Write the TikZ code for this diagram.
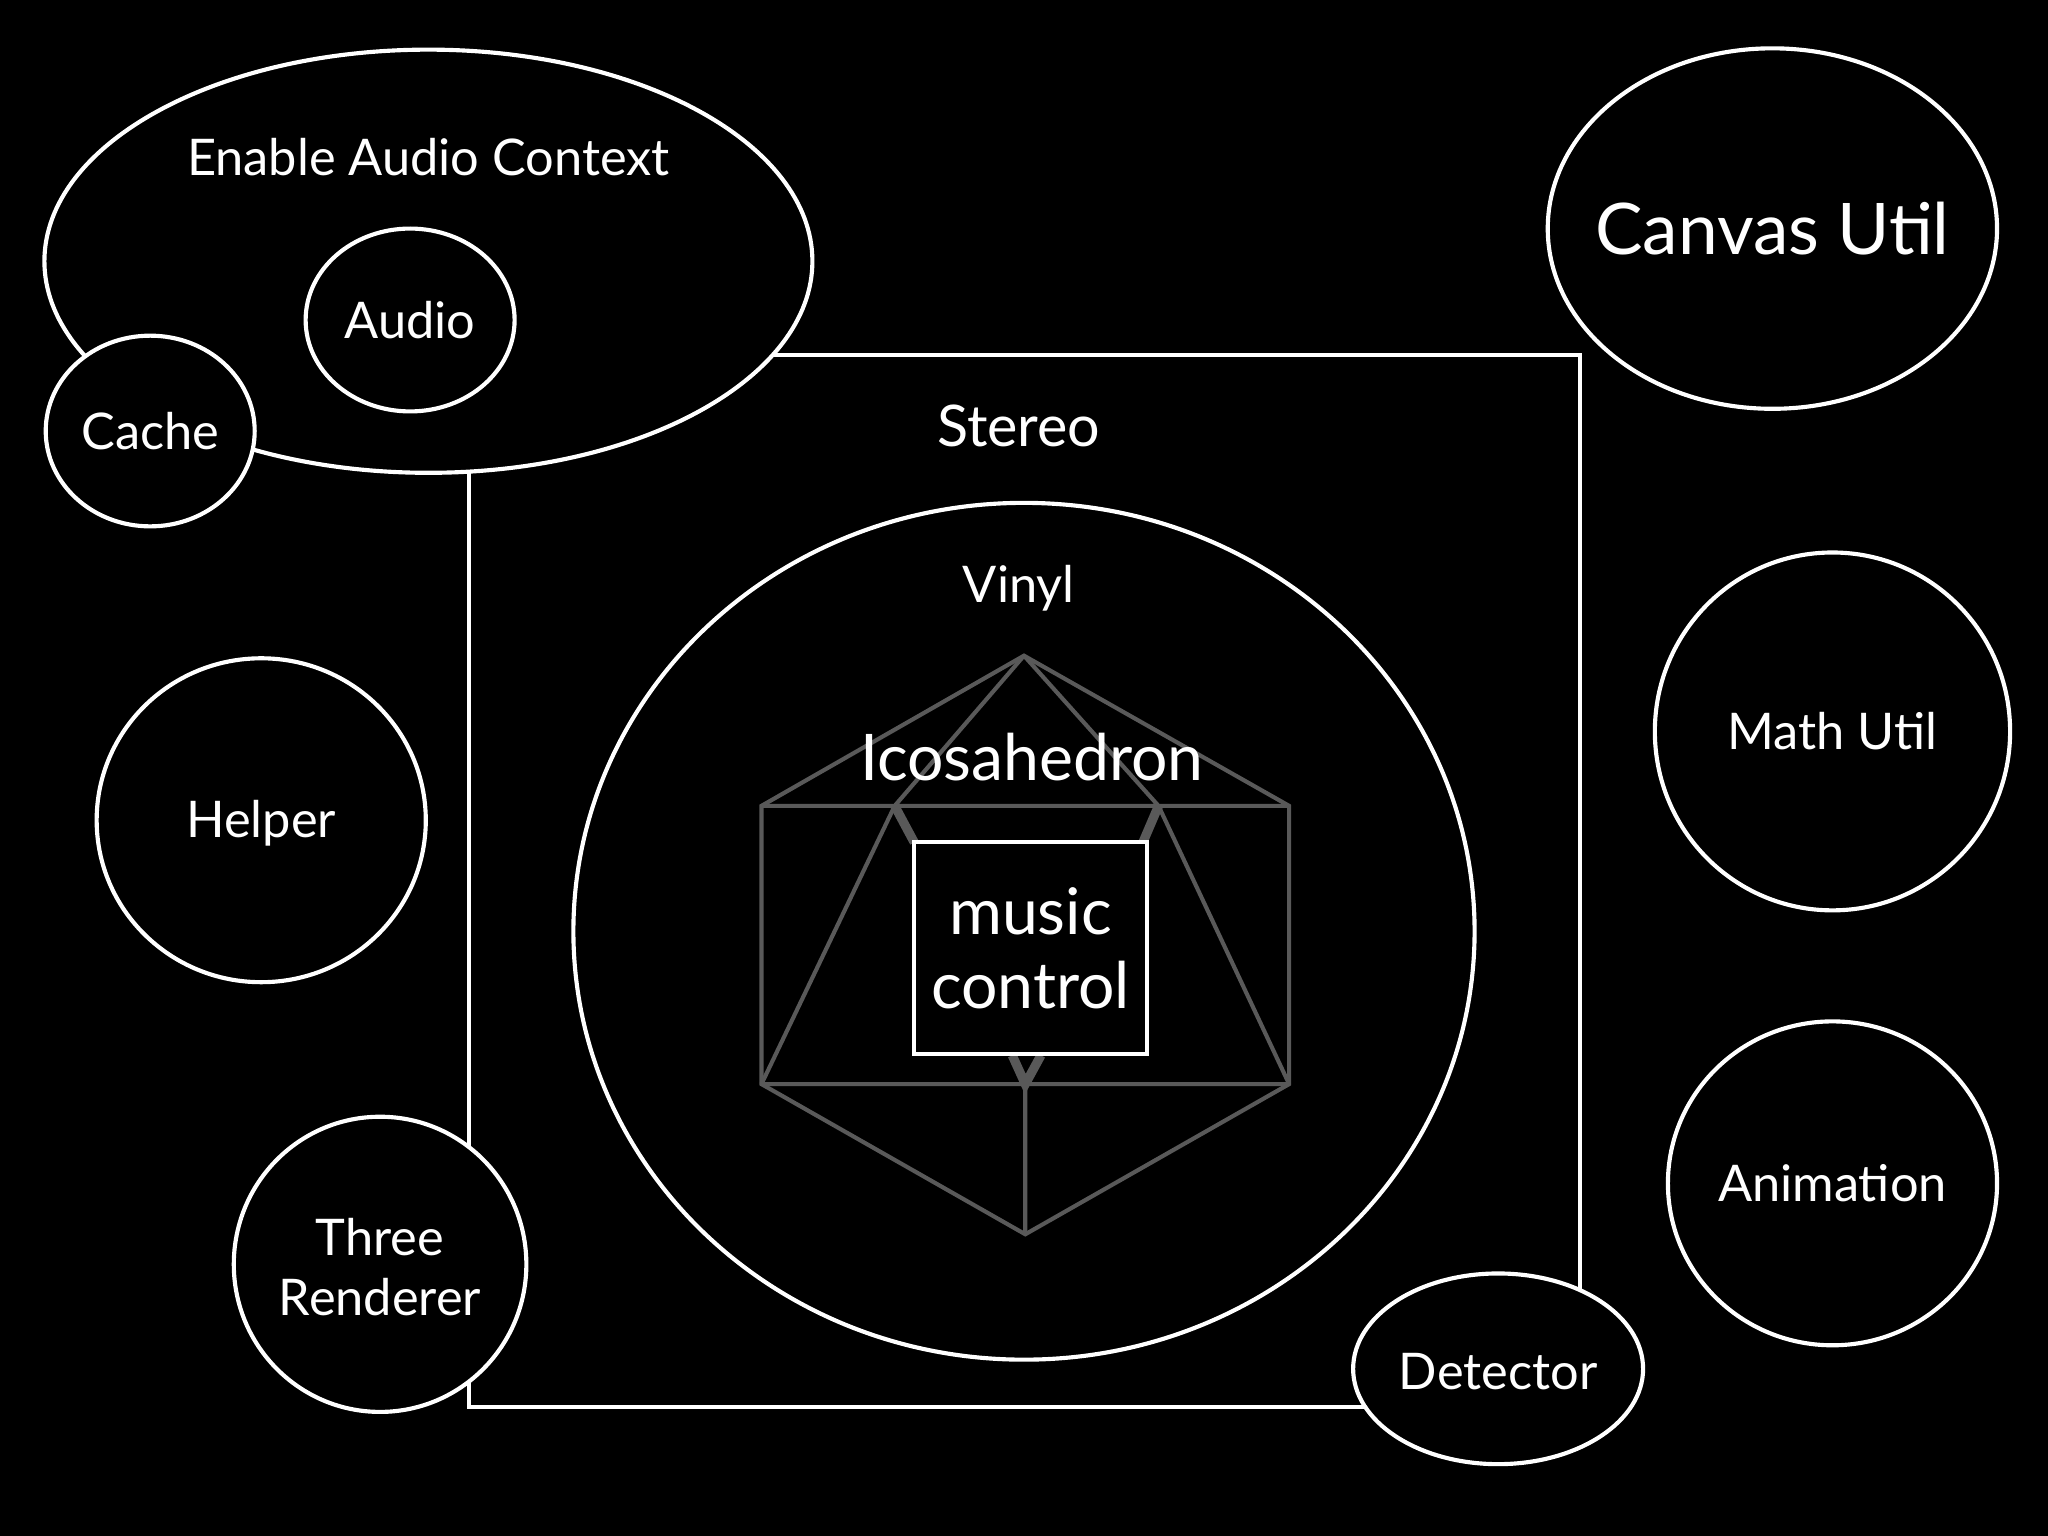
\documentclass[tikz,border=0pt]{standalone}
\usepackage{fontspec}
\setmainfont{Lato}
\begin{document}
\begin{tikzpicture}[x=0.01cm,y=-0.01cm,
  wl/.style={draw=white,line width=0.9pt,fill=black},
  gl/.style={draw=gray!70!black,line width=0.9pt},
  lbl/.style={text=white,font=\fontsize{11}{13}\selectfont,align=center}]
\fill[black] (0,0) rectangle (1568,1176);
\useasboundingbox (0,0) rectangle (1568,1176);
% Stereo
\draw[wl] (359,272) rectangle (1210,1077);
\node[lbl,font=\fontsize{12.5}{14}\selectfont] (stereo) at (780,326) {Stereo};
% Enable Audio Context
\draw[wl] (328,200) ellipse (294 and 162);
\node[lbl] (eac) at (328,120) {Enable Audio Context};
\draw[wl] (314,245) ellipse (80 and 70);
\node[lbl] (audio) at (314,245) {Audio};
\draw[wl] (115,330) ellipse (80 and 73);
\node[lbl] (cache) at (115,330) {Cache};
% Canvas Util
\draw[wl] (1357,175) ellipse (172 and 138);
\node[lbl,font=\fontsize{15.5}{18}\selectfont] (canvas) at (1357,175) {Canvas Util};
% Vinyl
\draw[wl] (784,713) ellipse (345 and 328);
\node[lbl] (vinyl) at (780,450) {Vinyl};
% Icosahedron
\coordinate (t) at (784,502);
\coordinate (a) at (583,617); \coordinate (b) at (987,617);
\coordinate (c) at (583,830); \coordinate (d) at (987,830);
\coordinate (e) at (785,945);
\coordinate (p) at (685,617); \coordinate (q) at (887,617);
\coordinate (m) at (785,830);
\draw[gl] (t)--(a)--(c)--(e)--(d)--(b)--cycle;
\draw[gl] (a)--(b) (c)--(d) (t)--(p)--(c) (t)--(q)--(d) (m)--(e);
\draw[gl,line width=2pt] (p)--(700,645) (q)--(875,645) (775,808)--(m)--(797,808);
\node[lbl,font=\fontsize{14}{16}\selectfont] (ico) at (790,580) {Icosahedron};
\node[lbl,draw=white,line width=0.9pt,fill=black,
  text width=1.78cm,minimum height=1.62cm,inner sep=0pt,font=\fontsize{14}{16}\selectfont] (mc) at (789,726) {music\\control};
% others
\draw[wl] (200,628) ellipse (126 and 124);
\node[lbl] (helper) at (200,630) {Helper};
\draw[wl] (291,968) ellipse (112 and 113);
\node[lbl] (three) at (291,970) {Three\\Renderer};
\draw[wl] (1403,560) ellipse (136 and 137);
\node[lbl] (math) at (1403,560) {Math Util};
\draw[wl] (1403,906) ellipse (126 and 124);
\node[lbl] (anim) at (1403,906) {Animation};
\draw[wl] (1147,1048) ellipse (111 and 73);
\node[lbl] (det) at (1147,1050) {Detector};
\end{tikzpicture}
\end{document}
